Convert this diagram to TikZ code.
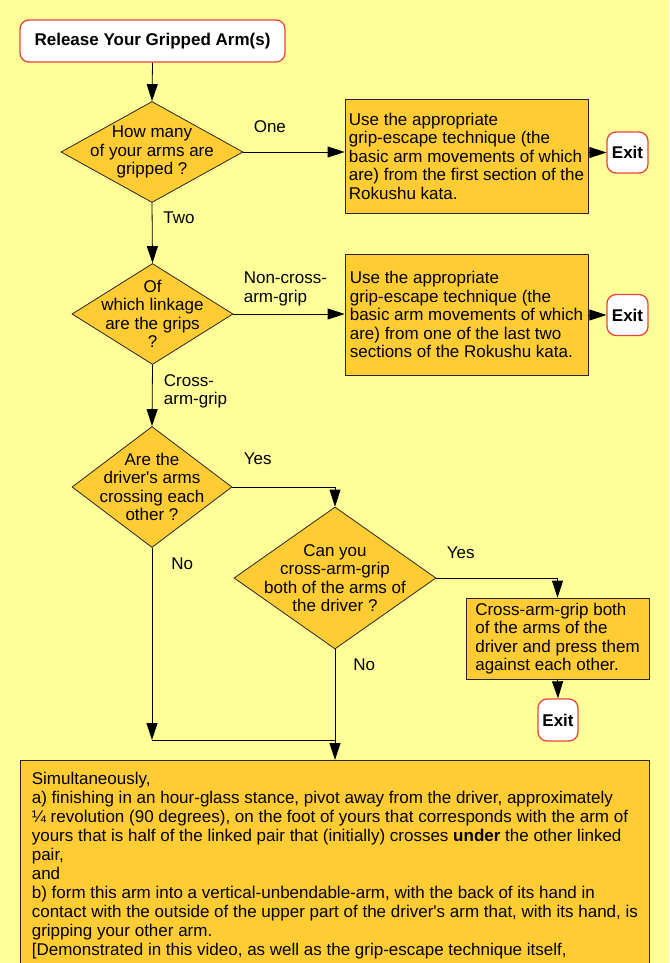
\documentclass[tikz,border=0pt]{standalone}
\usepackage{fontspec}
\setmainfont{Liberation Sans}[Ligatures=TeXOff]
\usepackage{xcolor}
\usetikzlibrary{arrows.meta,positioning,shapes.geometric}
\definecolor{pagebg}{HTML}{FFFF99}
\definecolor{stepfill}{HTML}{FFCC33}
\definecolor{exitred}{HTML}{E8453C}

\begin{document}
\begin{tikzpicture}[x=1pt,y=-1pt,>={Triangle[length=17pt,width=11pt]},line width=0.8pt,
 txt/.style={font=\fontsize{17pt}{18.5pt}\selectfont},
 term/.style={draw=exitred,line width=1.3pt,fill=white,rounded corners=9pt,inner sep=0pt,
   font=\fontsize{17pt}{18.5pt}\selectfont\bfseries},
 ques/.style={diamond,draw=black!85,fill=stepfill,inner sep=0pt},
 qtext/.style={txt,align=center,inner sep=0pt},
 box/.style={txt,draw=black!85,fill=stepfill,align=left,inner sep=0pt},
 lbl/.style={txt,align=left,inner sep=0pt}]
\fill[pagebg] (0,0) rectangle (669,963);
\useasboundingbox (0,0) rectangle (669,963);
% nodes
\node[term,minimum width=265pt,minimum height=42pt] (start) at (152.5,41) {Release Your Gripped Arm(s)};
\node[ques,minimum width=182pt,minimum height=101pt,
 label={[qtext]center:How many\\of your arms are\\gripped ?}] (q1) at (152,152) {};
\node[box,minimum width=243pt,minimum height=114pt] (use1) at (466.5,156)
 {Use the appropriate\\grip-escape technique (the\\basic arm movements of which\\are) from the first section of the\\Rokushu kata.};
\node[term,minimum width=41pt,minimum height=41pt] (ex1) at (627.5,152.5) {Exit};
\node[ques,minimum width=161pt,minimum height=101pt,
 label={[qtext]center:Of\\which linkage\\are the grips\\?}] (q2) at (152.5,314) {};
\node[box,minimum width=243pt,minimum height=121pt] (use2) at (466.5,314.5)
 {Use the appropriate\\grip-escape technique (the\\basic arm movements of which\\are) from one of the last two\\sections of the Rokushu kata.};
\node[term,minimum width=41pt,minimum height=41pt] (ex2) at (627.5,315) {Exit};
\node[ques,minimum width=160pt,minimum height=121pt,
 label={[qtext]center:Are the\\driver's arms\\crossing each\\other ?}] (q3) at (152,487) {};
\node[ques,minimum width=202pt,minimum height=142pt,
 label={[qtext]center:Can you\\cross-arm-grip\\both of the arms of\\the driver ?}] (q4) at (335,578) {};
\node[box,minimum width=183pt,minimum height=81pt] (press) at (557.5,638.5)
 {Cross-arm-grip both\\of the arms of the\\driver and press them\\against each other.};
\node[term,minimum width=40pt,minimum height=42pt] (ex3) at (558,720) {Exit};
\node[box,anchor=north west,minimum width=629pt,inner xsep=10pt,inner ysep=12pt,text depth=40pt,
 font=\fontsize{17pt}{19pt}\selectfont] (sim) at (20,760)
 {Simultaneously,\\
 a) finishing in an hour-glass stance, pivot away from the driver, approximately\\
 ¼ revolution (90 degrees), on the foot of yours that corresponds with the arm of\\
 yours that is half of the linked pair that (initially) crosses \textbf{under} the other linked\\
 pair,\\
 and\\
 b) form this arm into a vertical-unbendable-arm, with the back of its hand in\\
 contact with the outside of the upper part of the driver's arm that, with its hand, is\\
 gripping your other arm.\\
 {[}Demonstrated in this video, as well as the grip-escape technique itself,};
\coordinate (j1) at (152,740);
\coordinate (j2) at (335,740);
% connectors
\draw[->] (start.south) -- (q1.north);
\draw[->] (q1.east) -- node[lbl,pos=0,anchor=south west,xshift=10pt,yshift=19pt]{One} (q1.east -| use1.west);
\draw[->] (use1.east |- ex1) -- (ex1.west);
\draw[->] (q1.south) -- node[lbl,pos=0,anchor=north west,xshift=11pt,yshift=-9pt]{Two} (q2.north);
\draw[->] (q2.east) -- node[lbl,pos=0,anchor=south west,xshift=10pt,yshift=8pt]{Non-cross-\\arm-grip} (q2.east -| use2.west);
\draw[->] (use2.east |- ex2) -- (ex2.west);
\draw[->] (q2.south) -- node[lbl,pos=0,anchor=north west,xshift=11pt,yshift=-9pt]{Cross-\\arm-grip} (q3.north);
\draw[->] (q3.east) -| node[lbl,pos=0,anchor=south west,xshift=11pt,yshift=22pt]{Yes} (q4.north);
\draw[->] (q4.east) -| node[lbl,pos=0,anchor=south west,xshift=10pt,yshift=19pt]{Yes} (press.north);
\draw[->] (press.south) -- (ex3.north);
\draw[->] (q3.south) -- node[lbl,pos=0,anchor=north west,xshift=19pt,yshift=-9pt]{No} (j1);
\draw (j1) -- (j2);
\draw[->] (q4.south) -- node[lbl,pos=0,anchor=north west,xshift=18pt,yshift=-9pt]{No} (q4.south |- sim.north);
\end{tikzpicture}
\end{document}
